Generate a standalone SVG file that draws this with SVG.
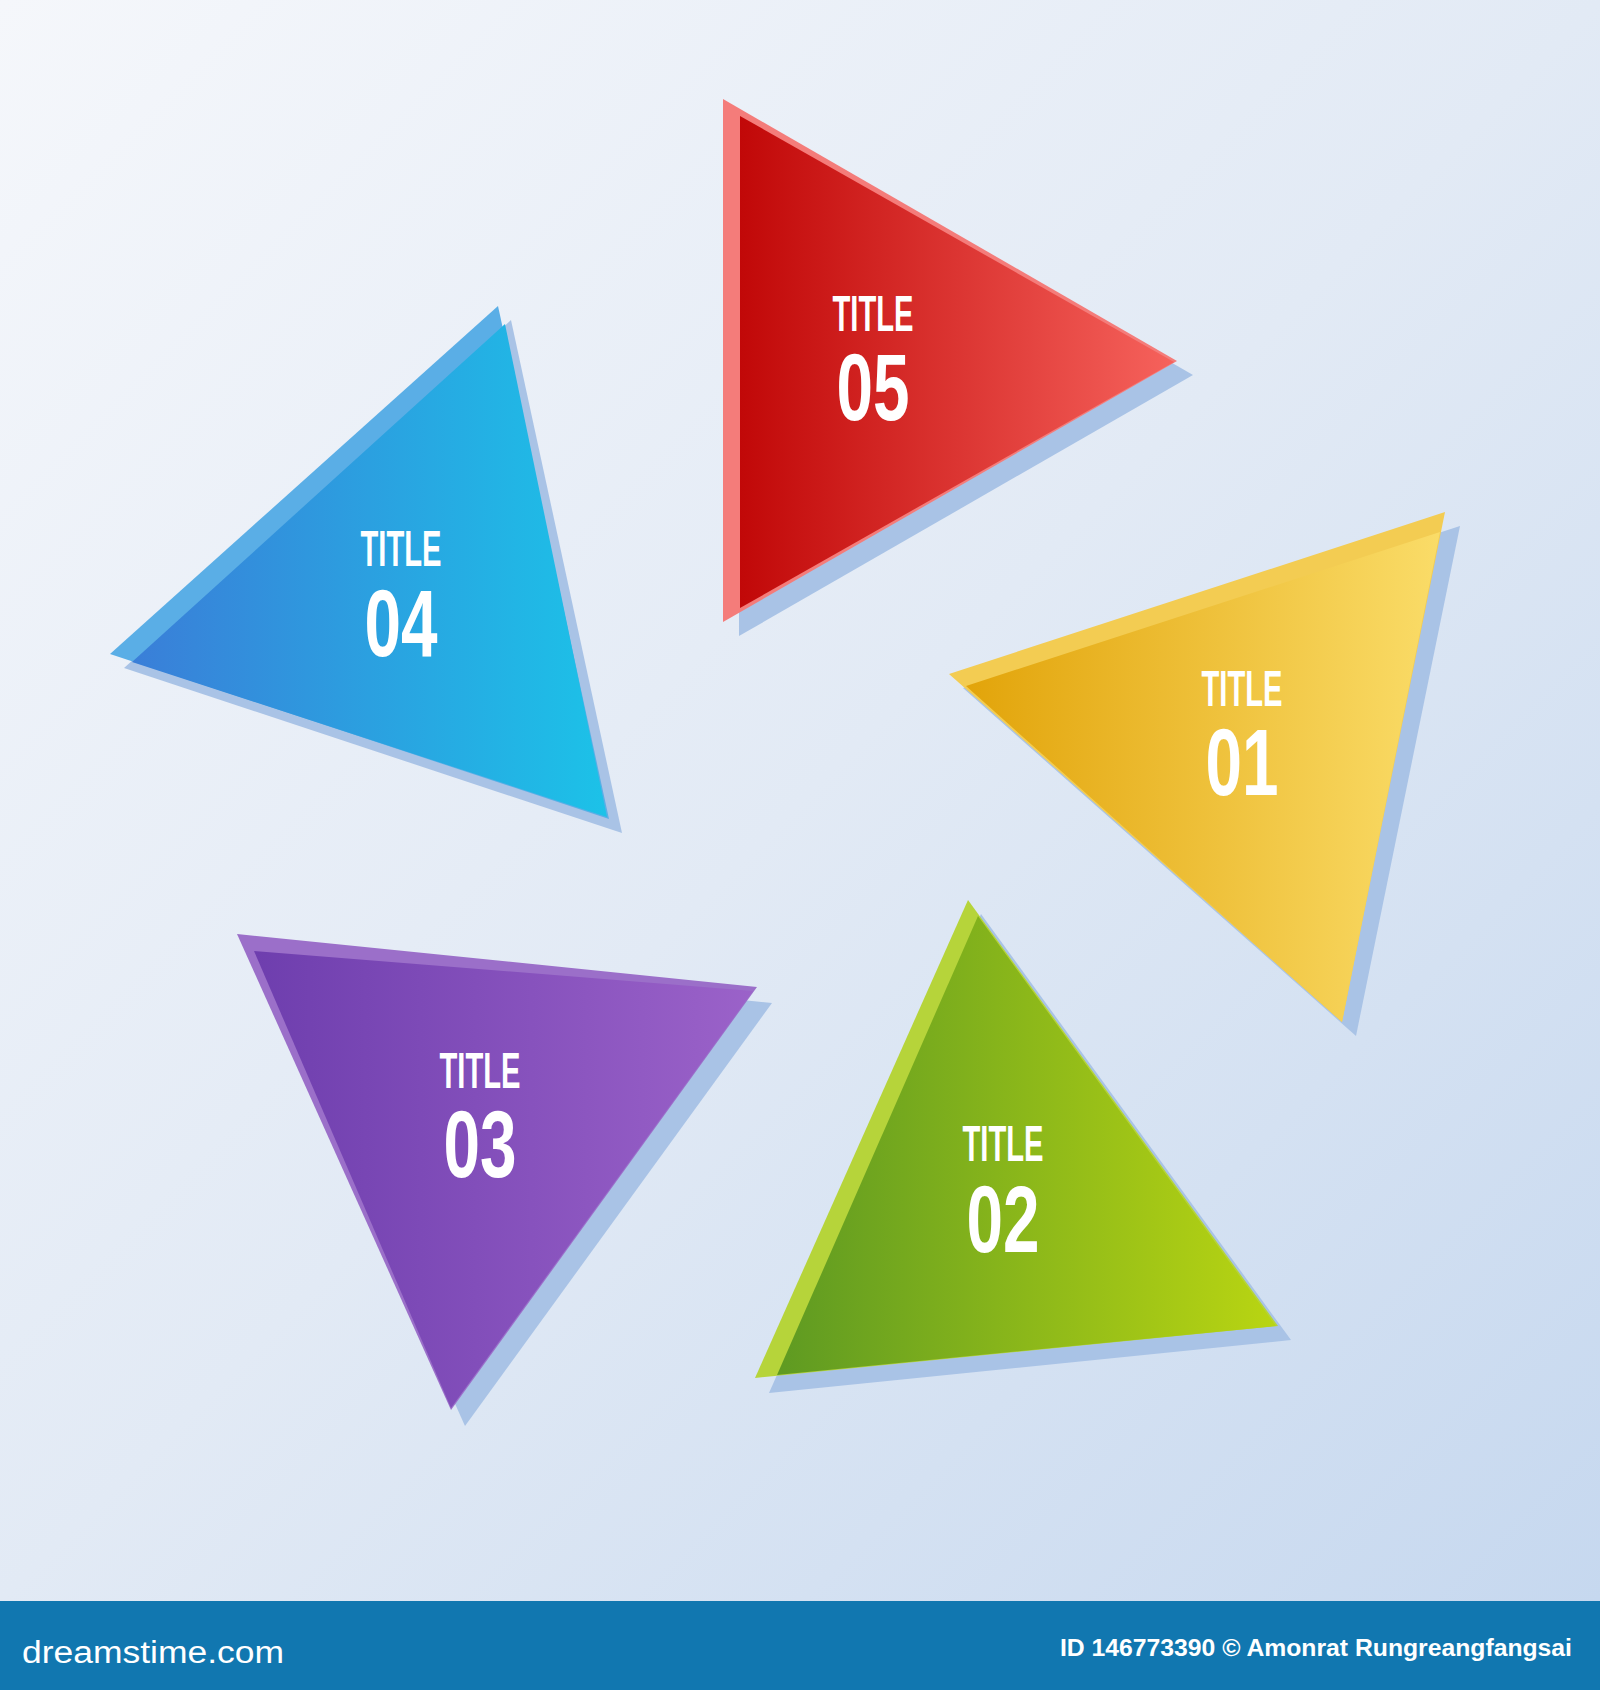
<svg xmlns="http://www.w3.org/2000/svg" width="1600" height="1690" viewBox="0 0 1600 1690">
  <defs>
    <linearGradient id="bg" x1="0" y1="0" x2="1" y2="1">
      <stop offset="0" stop-color="#f5f7fb"/>
      <stop offset="0.5" stop-color="#e2eaf5"/>
      <stop offset="1" stop-color="#c6d8ef"/>
    </linearGradient>
    <linearGradient id="gRed" x1="0" y1="0" x2="1" y2="0">
      <stop offset="0" stop-color="#c10808"/>
      <stop offset="1" stop-color="#f6625c"/>
    </linearGradient>
    <linearGradient id="gYellow" x1="0" y1="0" x2="1" y2="0">
      <stop offset="0" stop-color="#e2a40a"/>
      <stop offset="1" stop-color="#fadc68"/>
    </linearGradient>
    <linearGradient id="gGreen" x1="0" y1="0" x2="1" y2="0">
      <stop offset="0" stop-color="#5e9a22"/>
      <stop offset="1" stop-color="#b9d512"/>
    </linearGradient>
    <linearGradient id="gPurple" x1="0" y1="0" x2="1" y2="0">
      <stop offset="0" stop-color="#6e3eae"/>
      <stop offset="1" stop-color="#9b62c9"/>
    </linearGradient>
    <linearGradient id="gBlue" x1="0" y1="0" x2="1" y2="0">
      <stop offset="0" stop-color="#3a7ed8"/>
      <stop offset="1" stop-color="#1cc2e8"/>
    </linearGradient>
  </defs>
  <style>
    .shadow { fill: #a9c3e6; }
    .ttl { font-family: "Liberation Sans", "DejaVu Sans", sans-serif; font-weight: bold; fill: #ffffff; text-anchor: middle; }
    .t1 { font-size: 50px; }
    .t2 { font-size: 94px; }
    .foot { font-family: "Liberation Sans", "DejaVu Sans", sans-serif; fill: #ffffff; }
  </style>

  <rect x="0" y="0" width="1600" height="1601" fill="url(#bg)"/>

  <g id="node-05">
    <polygon class="shadow" points="739,113 1193,375 739,636"/>
    <polygon fill="#f47c7a" points="723,99 1177,361 723,622"/>
    <polygon fill="url(#gRed)" points="740,116 1174,362 740,608"/>
    <text class="ttl t1" x="873" y="331" textLength="81" lengthAdjust="spacingAndGlyphs">TITLE</text>
    <text class="ttl t2" x="873" y="420" textLength="73" lengthAdjust="spacingAndGlyphs">05</text>
  </g>

  <g id="node-01">
    <polygon class="shadow" points="963,688 1460,526 1356,1036"/>
    <polygon fill="#f3cc52" points="949,674 1445,512 1342,1022"/>
    <polygon fill="url(#gYellow)" points="966,686 1440,532 1342,1022"/>
    <text class="ttl t1" x="1242" y="706" textLength="81" lengthAdjust="spacingAndGlyphs">TITLE</text>
    <text class="ttl t2" x="1242" y="795" textLength="73" lengthAdjust="spacingAndGlyphs">01</text>
  </g>

  <g id="node-02">
    <polygon class="shadow" points="981,914 769,1393 1291,1340"/>
    <polygon fill="#b6d43a" points="968,900 755,1378 1278,1326"/>
    <polygon fill="url(#gGreen)" points="978,916 777,1375 1276,1326"/>
    <text class="ttl t1" x="1003" y="1161" textLength="81" lengthAdjust="spacingAndGlyphs">TITLE</text>
    <text class="ttl t2" x="1003" y="1252" textLength="73" lengthAdjust="spacingAndGlyphs">02</text>
  </g>

  <g id="node-03">
    <polygon class="shadow" points="252,950 772,1003 465,1426"/>
    <polygon fill="#9b6fc9" points="237,934 757,987 451,1410"/>
    <polygon fill="url(#gPurple)" points="254,951 753,991 451,1408"/>
    <text class="ttl t1" x="480" y="1088" textLength="81" lengthAdjust="spacingAndGlyphs">TITLE</text>
    <text class="ttl t2" x="480" y="1177" textLength="73" lengthAdjust="spacingAndGlyphs">03</text>
  </g>

  <g id="node-04">
    <polygon class="shadow" points="511,320 124,668 622,833"/>
    <polygon fill="#5aaee6" points="498,306 110,654 609,819"/>
    <polygon fill="url(#gBlue)" points="505,324 132,662 607,817"/>
    <text class="ttl t1" x="401" y="566" textLength="81" lengthAdjust="spacingAndGlyphs">TITLE</text>
    <text class="ttl t2" x="401" y="656" textLength="73" lengthAdjust="spacingAndGlyphs">04</text>
  </g>

  <g id="footer">
    <rect x="0" y="1601" width="1600" height="89" fill="#1177b0"/>
    <text class="foot" x="22" y="1663" font-size="31" textLength="262" lengthAdjust="spacingAndGlyphs">dreamstime.com</text>
    <text class="foot" x="1060" y="1656" font-size="24" font-weight="bold" textLength="512" lengthAdjust="spacingAndGlyphs">ID 146773390 © Amonrat Rungreangfangsai</text>
  </g>
</svg>
